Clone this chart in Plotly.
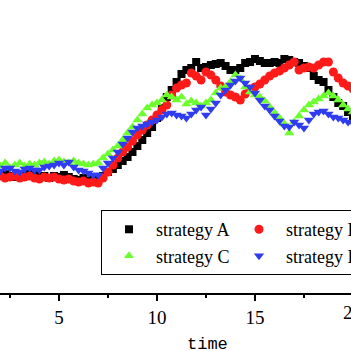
import plotly.graph_objects as go

time = [i * 0.25 for i in range(7, 81)]  # 1.75 ... 20.0

strategy_a = [1.18, 1.17, 1.19, 1.17, 1.16, 1.18, 1.17, 1.19, 1.18, 1.16, 1.17, 1.15, 1.17, 1.16, 1.18, 1.16, 1.14, 1.13, 1.15, 1.12, 1.14, 1.16,
              1.17, 1.21, 1.24, 1.28, 1.32, 1.36, 1.41, 1.47, 1.53, 1.60, 1.66, 1.75, 1.85, 1.96, 2.03, 2.11, 2.19, 2.23, 2.25, 2.31,
              2.25, 2.26, 2.28, 2.29, 2.30, 2.27, 2.23, 2.23, 2.25, 2.30, 2.31, 2.34, 2.32, 2.30, 2.30, 2.31, 2.30, 2.34, 2.33, 2.31,
              2.30, 2.27, 2.25, 2.17, 2.13, 2.11, 2.03, 1.96, 1.90, 1.87, 1.81, 1.77]
strategy_b = [1.16, 1.17, 1.15, 1.16, 1.17, 1.15, 1.16, 1.17, 1.15, 1.14, 1.16, 1.15, 1.16, 1.14, 1.13, 1.14, 1.12, 1.11, 1.12, 1.10, 1.11, 1.10,
              1.15, 1.21, 1.28, 1.35, 1.41, 1.46, 1.52, 1.58, 1.63, 1.68, 1.73, 1.78, 1.83, 1.88, 1.98, 2.05, 2.08, 2.10, 2.20, 2.17,
              2.13, 2.21, 2.18, 2.13, 2.07, 2.01, 1.98, 1.96, 1.93, 1.99, 2.04, 2.06, 2.09, 2.13, 2.17, 2.20, 2.22, 2.25, 2.28, 2.31,
              2.23, 2.25, 2.26, 2.25, 2.28, 2.31, 2.31, 2.21, 2.15, 2.10, 2.07, 2.04]
strategy_c = [1.26, 1.27, 1.30, 1.25, 1.28, 1.30, 1.27, 1.29, 1.28, 1.30, 1.31, 1.29, 1.32, 1.33, 1.31, 1.30, 1.32, 1.30, 1.29, 1.28, 1.29, 1.30,
              1.35, 1.39, 1.43, 1.47, 1.53, 1.60, 1.66, 1.73, 1.79, 1.85, 1.88, 1.90, 1.93, 1.98, 1.96, 1.93, 1.96, 1.89, 1.92, 1.90,
              1.87, 1.90, 1.93, 2.00, 2.05, 2.06, 2.11, 2.18, 2.14, 2.06, 2.01, 1.98, 1.96, 1.92, 1.86, 1.80, 1.75, 1.69, 1.60, 1.71,
              1.77, 1.83, 1.88, 1.91, 1.94, 1.97, 2.00, 1.97, 1.93, 1.88, 1.84, 1.81]
strategy_d = [1.23, 1.22, 1.25, 1.25, 1.22, 1.21, 1.24, 1.25, 1.23, 1.23, 1.26, 1.27, 1.28, 1.30, 1.28, 1.31, 1.26, 1.23, 1.22, 1.20, 1.18, 1.18,
              1.25, 1.30, 1.35, 1.41, 1.49, 1.55, 1.61, 1.65, 1.67, 1.69, 1.71, 1.73, 1.76, 1.79, 1.80, 1.78, 1.77, 1.75, 1.79, 1.83,
              1.86, 1.78, 1.84, 1.90, 1.98, 2.03, 2.08, 2.12, 2.15, 2.10, 2.06, 2.00, 1.93, 1.87, 1.83, 1.77, 1.72, 1.67, 1.66, 1.71,
              1.68, 1.65, 1.73, 1.79, 1.81, 1.82, 1.79, 1.76, 1.75, 1.73, 1.71, 1.70]

names = ["strategy A", "strategy B", "strategy C", "strategy D"]
series = [strategy_a, strategy_b, strategy_c, strategy_d]
colors = ["#000000", "#ff1a1a", "#6cff2e", "#2f3cf0"]
symbols = ["square", "circle", "triangle-up", "triangle-down"]
sizes = [8, 9, 9, 9]

fig = go.Figure()
for n, s, c, sym, sz in zip(names, series, colors, symbols, sizes):
    fig.add_trace(go.Scatter(x=time, y=s, mode="markers", name=n,
                             marker=dict(color=c, symbol=sym, size=sz, line=dict(width=0))))

serif = "Liberation Serif"
fig.update_layout(
    width=351, height=351,
    margin=dict(l=0, r=0, t=0, b=58, autoexpand=False),
    plot_bgcolor="white", paper_bgcolor="white",
    xaxis=dict(range=[1.99, 19.90], showgrid=False, zeroline=False,
               showline=True, linecolor="black", linewidth=1.5,
               ticks="outside", ticklen=6, tickwidth=1.5, tickcolor="black",
               tick0=0, dtick=5,
               minor=dict(ticks="outside", ticklen=3, tickwidth=1.5, tickcolor="black", dtick=2.5, tick0=0),
               tickfont=dict(family=serif, size=19, color="black")),
    yaxis=dict(range=[0, 2.93], visible=False),
    showlegend=True,
    legend=dict(orientation="h", x=101 / 351, y=0.283, xanchor="left", yanchor="top",
                bordercolor="black", borderwidth=1, bgcolor="white",
                itemwidth=44,
                entrywidth=71, entrywidthmode="pixels",
                font=dict(family=serif, size=18, color="black")),
    annotations=[
        dict(text="20", xref="paper", yref="paper", x=353 / 351, y=-0.068,
             xanchor="center", yanchor="middle", showarrow=False,
             font=dict(family=serif, size=19, color="black")),
        dict(text="time", xref="paper", yref="paper", x=207 / 351, y=-0.177,
             xanchor="center", yanchor="middle", showarrow=False,
             font=dict(family="Liberation Mono", size=17, color="black")),
    ],
)

fig.write_html("out.html")
